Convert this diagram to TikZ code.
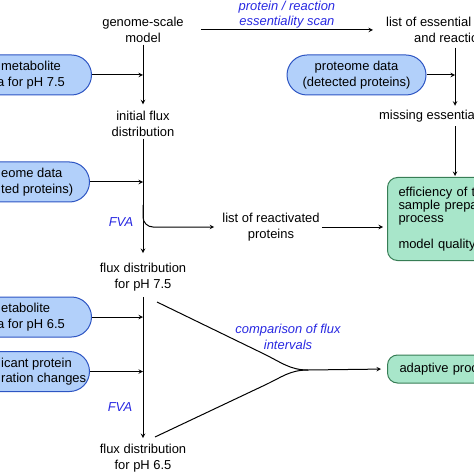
\documentclass[tikz,border=0pt]{standalone}
\usepackage{fontspec}
\setmainfont{Liberation Sans}
\usepackage{tikz}
\usetikzlibrary{arrows,shapes,positioning}
\usepackage{xcolor}
\definecolor{pillblue}{RGB}{178,208,250}
\definecolor{pilledge}{RGB}{45,85,195}
\definecolor{boxgreen}{RGB}{168,230,202}
\definecolor{boxedge}{RGB}{55,125,85}
\definecolor{labblue}{RGB}{40,40,225}
\tikzstyle{pill} = [rectangle, rounded corners=20bp, minimum height=40bp, draw=pilledge, fill=pillblue, line width=1bp]
\tikzstyle{result} = [rectangle, rounded corners=10bp, draw=boxedge, fill=boxgreen, line width=1bp, align=left]
\tikzstyle{plain} = [align=center, inner sep=2bp]
\tikzstyle{cut} = [align=left, inner sep=0pt, anchor=west]
\tikzstyle{arrow} = [line width=1bp,->,>=stealth]
\tikzstyle{method} = [font=\fontsize{13}{15.5}\selectfont\itshape, text=labblue, align=center, inner sep=1bp]

\begin{document}
\begin{tikzpicture}[x=1bp, y=-1bp, font=\fontsize{13}{15.5}\selectfont]
\useasboundingbox (0,0) rectangle (474,474);
\clip (0,0) rectangle (474,474);

% Main column
\node (model) [plain] at (143,30) {genome-scale\\model};
\node (init) [plain] at (143,124) {initial flux\\distribution};
\node (flux75) [plain] at (143,277) {flux distribution\\for pH 7.5};
\node (flux65) [plain] at (143,458) {flux distribution\\for pH 6.5};
\node (react) [plain] at (271,227) {list of reactivated\\proteins};

% Right column
\node (ess) [cut] at (386,30) {list of essential\\\hspace*{28bp}and reactio};
\node (prot) [pill, minimum width=139bp, align=center] at (356.5,75) {proteome data\\(detected proteins)};
\node (missing) [cut] at (379,116) {missing essentia};
\node (effic) [result, anchor=north west, minimum height=83bp, text width=95bp, inner xsep=11bp, font=\fontsize{13}{13}\selectfont] at (387,177) {efficiency of t\\sample prepa\\process\\[13bp]model quality};
\node (adapt) [result, anchor=west, minimum height=28bp, text width=100bp, inner xsep=12bp] at (387,369) {adaptive proc};

% Data inputs on the left
\node (met75) [pill, minimum width=160bp, anchor=east] at (92,75) {};
\node (met75txt) [cut] at (1,75) {metabolite\\\hspace*{-4bp}a for pH 7.5};
\node (prot75) [pill, minimum width=160bp, anchor=east] at (90,182) {};
\node (prot75txt) [cut] at (1,182) {eome data\\ted proteins)};
\node (met65) [pill, minimum width=160bp, anchor=east] at (92,317) {};
\node (met65txt) [cut] at (1,317) {etabolite\\\hspace*{-4bp}a for pH 6.5};
\node (sig65) [pill, minimum width=160bp, anchor=east] at (90,371.5) {};
\node (sig65txt) [cut] at (1,371.5) {icant protein\\ration changes};

% Method labels
\node (fva1) [method] at (121,222) {FVA};
\node (fva2) [method] at (120,407) {FVA};
\node (cmp) [method] at (288,337) {comparison of flux\\intervals};

% Joints
\coordinate (j1) at (143,75);
\coordinate (j2) at (455,75);
\coordinate (j3) at (143,182);
\coordinate (j4) at (143,205);
\coordinate (j5) at (143,317);
\coordinate (j6) at (143,371.5);
\coordinate (s1) at (157,302);
\coordinate (k1) at (262,353);
\coordinate (c1) at (282,362.7);
\coordinate (s2) at (155,437);
\coordinate (k2) at (265,385);
\coordinate (c3) at (282,377);
\coordinate (c2) at (290,370);
\coordinate (m) at (308,370);

% Arrows
\draw[arrow, shorten >=5bp] (model) -- (init);
\draw[arrow] (met75) -- (j1);
\draw[arrow] ([xshift=15bp]model.east) -- node[method, above] {protein / reaction\\essentiality scan} ([xshift=-13bp]ess.west);
\draw[arrow, shorten <=5bp, shorten >=4bp] (ess.south -| j2) -- (missing.north -| j2);
\draw[arrow] (prot) -- (j2);
\draw[arrow, shorten <=4bp, shorten >=1bp] (missing.south -| j2) -- (effic.north -| j2);
\draw[arrow, shorten >=8bp] (init) -- (flux75);
\draw[arrow] (prot75) -- (j3);
\draw[arrow, rounded corners=10bp, shorten >=6bp] (j4) |- (react.west);
\draw[arrow, shorten >=4bp] (react) -- (effic.west |- react);
\draw[arrow, shorten <=4bp, shorten >=4bp] (flux75) -- (flux65);
\draw[arrow] (met65) -- (j5);
\draw[arrow] (sig65) -- (j6);
\draw[line width=1bp] (s1) -- (k1) .. controls (c1) and (c2) .. (m);
\draw[line width=1bp] (s2) -- (k2) .. controls (c3) and (c2) .. (m);
\draw[arrow, shorten >=6bp] (m) -- (adapt.west);
\end{tikzpicture}
\end{document}
